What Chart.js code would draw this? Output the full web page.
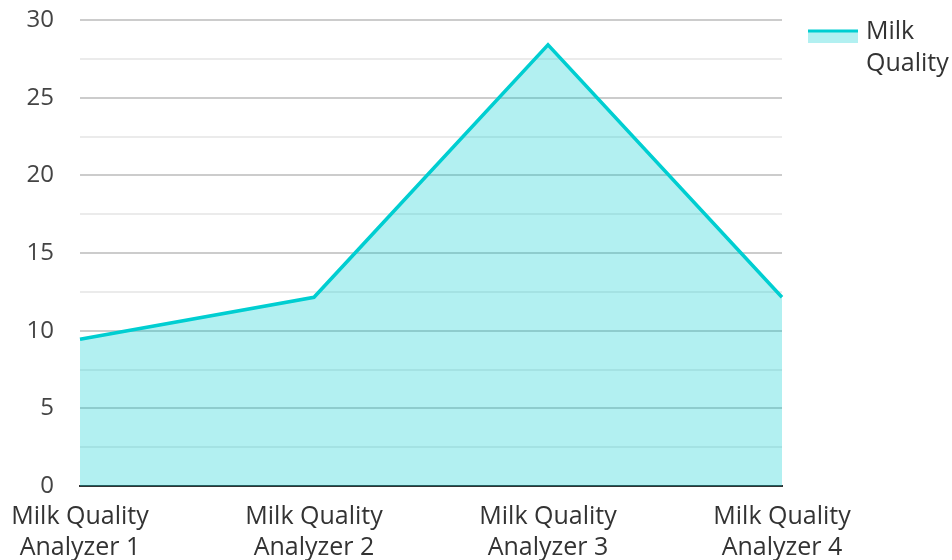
<!DOCTYPE html>
<html>
<head>
<meta charset="utf-8">
<script src="https://cdn.jsdelivr.net/npm/chart.js@4"></script>
<style>
  html, body { margin: 0; padding: 0; background: #ffffff; }
  #wrap { width: 952px; height: 560px; }
</style>
</head>
<body>
<div id="wrap"><canvas id="chart" width="952" height="560"></canvas></div>
<script>
// Categories and series values
const categories = [
  ['Milk Quality', 'Analyzer 1'],
  ['Milk Quality', 'Analyzer 2'],
  ['Milk Quality', 'Analyzer 3'],
  ['Milk Quality', 'Analyzer 4']
];
const seriesLabel = 'Milk Quality';
const milkQuality = [9.45, 12.15, 28.4, 12.15];
const yTicks = [0, 5, 10, 15, 20, 25, 30];

const FONT = "'Open Sans', 'Noto Sans', sans-serif";
const LINE = '#00ced1';
const FILL = 'rgba(0, 206, 209, 0.30)';

// Legend at the top right: a line over a filled swatch, label wrapped by word
const sideLegend = {
  id: 'sideLegend',
  afterDraw(chart) {
    const ctx = chart.ctx;
    const ds = chart.data.datasets[0];
    const x0 = 808, y0 = 31, w = 50;
    ctx.save();
    ctx.fillStyle = ds.backgroundColor;
    ctx.fillRect(x0, y0, w, 12);
    ctx.strokeStyle = ds.borderColor;
    ctx.lineWidth = 3;
    ctx.beginPath();
    ctx.moveTo(x0, y0);
    ctx.lineTo(x0 + w, y0);
    ctx.stroke();
    ctx.fillStyle = '#333333';
    ctx.font = '25px ' + FONT;
    ctx.textBaseline = 'middle';
    ctx.textAlign = 'left';
    ds.label.split(' ').forEach((word, i) => {
      ctx.fillText(word, 866, 32 + i * 32);
    });
    ctx.restore();
  }
};

new Chart(document.getElementById('chart'), {
  type: 'line',
  data: {
    labels: categories,
    datasets: [{
      label: seriesLabel,
      data: milkQuality,
      borderColor: LINE,
      backgroundColor: FILL,
      borderWidth: 3.5,
      fill: 'origin',
      tension: 0,
      pointRadius: 0,
      pointHoverRadius: 0
    }]
  },
  options: {
    responsive: false,
    animation: false,
    layout: { padding: { top: 20, right: 170, bottom: 0, left: 0 } },
    plugins: {
      legend: { display: false },
      tooltip: { enabled: false }
    },
    scales: {
      x: {
        offset: false,
        grid: { display: false, drawTicks: false },
        border: { display: true, color: '#333333', width: 2 },
        ticks: {
          color: '#333333',
          padding: 15,
          maxRotation: 0,
          autoSkip: false,
          font: { family: FONT, size: 25, lineHeight: 1.25 }
        },
        afterFit(scale) {
          scale.height = 74;
          scale.paddingLeft = 0;
          scale.paddingRight = 0;
        }
      },
      y: {
        min: 0,
        max: 30,
        grid: {
          drawTicks: false,
          lineWidth: 2,
          color: (c) => (c.tick && c.tick.value % 5 === 0) ? '#cccccc' : '#ebebeb'
        },
        border: { display: false },
        ticks: {
          stepSize: 2.5,
          color: '#444444',
          padding: 26,
          font: { family: FONT, size: 24 },
          callback: (v) => yTicks.includes(v) ? String(v) : ''
        },
        afterFit(scale) {
          scale.width = 80;
          scale.paddingTop = 0;
          scale.paddingBottom = 0;
        }
      }
    }
  },
  plugins: [sideLegend]
});
</script>
</body>
</html>
